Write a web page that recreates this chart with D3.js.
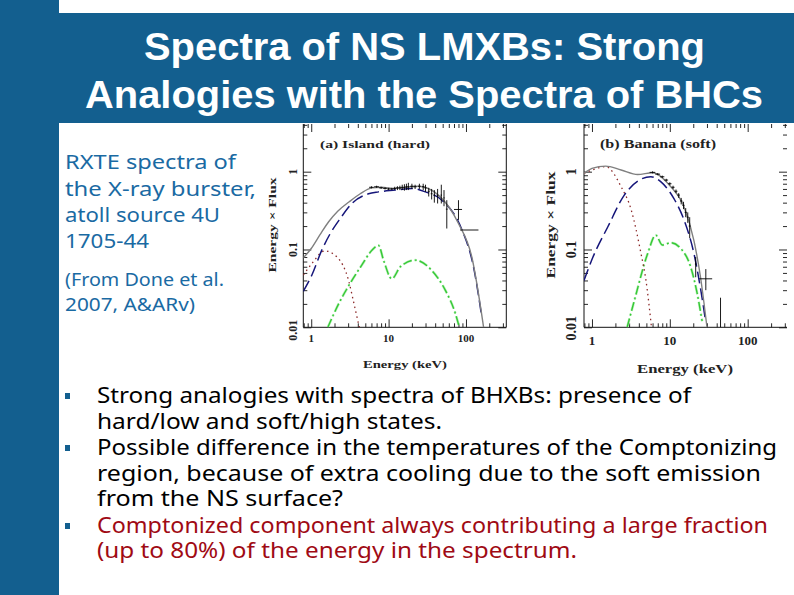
<!DOCTYPE html>
<html><head><meta charset="utf-8">
<script src="https://cdn.jsdelivr.net/npm/d3@7/dist/d3.min.js"></script>
<style>html,body{margin:0;padding:0;background:#fff;overflow:hidden}svg{display:block}</style>
</head><body><svg id="c" width="794" height="595"></svg>
<script>
// ---- data (energy keV, E x Flux) ----
const aTotal=[[0.79,0.078],[1,0.103],[1.3,0.155],[1.68,0.227],[2.2,0.31],[3.1,0.41],[4.3,0.52],[6.1,0.62],[8,0.63],[12.2,0.61],[24,0.65],[44,0.5],[80,0.216],[119,0.08],[169,0.01]];
const aComp=[[0.79,0.029],[1.02,0.047],[1.37,0.098],[1.76,0.16],[2.37,0.25],[3.35,0.39],[5.5,0.52],[7.4,0.55],[12.2,0.58],[20,0.61],[30,0.55],[48.7,0.43],[89,0.178],[125,0.06],[160,0.0136]];
const aDisc=[[0.79,0.047],[1.02,0.066],[1.5,0.096],[2.15,0.08],[3.04,0.04],[3.5,0.022],[4.1,0.011],[4.2,0.01]];
const aRefl=[[1.64,0.01],[2.26,0.02],[3.2,0.037],[4.5,0.063],[6.1,0.098],[7.4,0.113],[8.6,0.073],[11,0.042],[14.2,0.06],[22,0.073],[36,0.054],[54,0.03],[73,0.015],[82,0.01]];
// [E, xlo, xhi, F, ylo, yhi]
const aObs=[[6,5.6,6.4,.63,.61,.65],[7,6.5,7.5,.64,.62,.66],[8,7.5,8.5,.62,.6,.64],[9,8.5,9.5,.61,.59,.63],[10,9.5,10.5,.6,.58,.62],[11,10.5,11.5,.6,.58,.62],[12,11.5,12.5,.61,.58,.64],[13,12.5,13.5,.62,.58,.65],[14,13.5,14.5,.62,.58,.66],[15,14.5,15.5,.63,.58,.68],[16,15.5,16.5,.63,.57,.69],[17,16.5,17.5,.64,.58,.7],[18,17.5,18.5,.64,.58,.72],[20,19,21,.65,.6,.7],[22,21,23,.64,.6,.68],[25,24,26,.65,.6,.7],[28,27,29,.64,.58,.7],[30,29,31,.62,.55,.68],[33,32,34,.56,.48,.62],[36,35,37,.52,.44,.6],[39,38,40,.5,.4,.58],[43,42,44,.49,.39,.6],[48,47,49,.5,.39,.68],[52,51,53,.46,.36,.58],[56.5,55,58,.33,.186,.43],[80,70,89,.327,.24,.43],[84,84,145,.178,.178,.178]];
const bTotal=[[0.79,0.95],[1,1.1],[1.5,1.18],[2.37,1.05],[3.86,0.92],[6,0.97],[10.3,0.64],[15.2,0.355],[20.4,0.13],[24.8,0.044],[30,0.01]];
const bComp=[[0.79,0.04],[1.03,0.08],[1.6,0.196],[2.6,0.5],[4.26,0.8],[5.7,0.86],[7.7,0.74],[11.3,0.45],[15.2,0.24],[20.4,0.089],[25,0.03],[28.8,0.012]];
const bDisc=[[0.79,0.95],[1,1.05],[1.5,1.16],[2.37,0.64],[3.2,0.32],[4.26,0.089],[4.94,0.04],[5.8,0.0102]];
const bRefl=[[2.83,0.01],[3.5,0.022],[5.2,0.089],[6.6,0.153],[8,0.114],[10.3,0.122],[13.8,0.103],[18.5,0.06],[22.5,0.027],[26,0.012]];
const bObs=[[6,5.5,6.5,.98,.95,1.01],[7,6.5,7.5,.93,.9,.96],[8,7.5,8.5,.86,.83,.89],[9,8.5,9.5,.78,.75,.81],[10,9.5,10.5,.7,.67,.73],[11,10.5,11.5,.63,.6,.66],[12,11.5,12.5,.56,.53,.59],[13,12.5,13.5,.5,.46,.53],[14,13.5,14.5,.42,.38,.46],[15,14.5,15.5,.37,.33,.41],[16,15.5,16.5,.3,.26,.34],[17,16.5,17.5,.26,.22,.3],[18,17.5,18.5,.2,.14,.26],[21.5,21,22,.065,.044,.08],[29,23.8,35,.042,.03,.056],[44.8,44.8,44.8,.02,.01,.024]];
const xTickLabels=["1","10","100"];
const yTickLabels=["1","0.1","0.01"];
const titleLines=["Spectra of NS LMXBs: Strong","Analogies with the Spectra of BHCs"];
const noteLines=["RXTE spectra of","the X-ray burster,","atoll source 4U","1705-44"];
const refLines=["(From Done et al.","2007, A&ARv)"];
const bulletLines=["Strong analogies with spectra of BHXBs: presence of","hard/low and soft/high states.","Possible difference in the temperatures of the Comptonizing","region, because of extra cooling due to the soft emission","from the NS surface?","Comptonized component always contributing a large fraction","(up to 80%) of the energy in the spectrum."];

// ---- slide ----
const svg=d3.select("#c"), BLUE="#135f8f";
svg.append("rect").attr("width",794).attr("height",595).attr("fill","#fff");
svg.append("rect").attr("x",0).attr("y",0).attr("width",59).attr("height",595).attr("fill",BLUE);
svg.append("rect").attr("x",59).attr("y",13).attr("width",735).attr("height",110).attr("fill",BLUE);
const SANS="'Comic Sans MS','Noto Sans',Lato,sans-serif";
function put(s,x,y,w,size,fill,font,weight){
  return svg.append("text").attr("x",x).attr("y",y).attr("fill",fill).attr("font-family",font)
   .attr("font-size",size).attr("font-weight",weight||400)
   .attr("textLength",w).attr("lengthAdjust","spacingAndGlyphs").text(s);
}
[[144,60,561],[85,108,678]].forEach((p,i)=>put(titleLines[i],p[0],p[1],p[2],39,"#fff","'Liberation Sans',Arial,sans-serif",700));
[[169,171],[196,191],[222,155],[248,84]].forEach((p,i)=>put(noteLines[i],65,p[0],p[1],20,"#1a6aa3",SANS));
[[286,159],[311,130]].forEach((p,i)=>put(refLines[i],65,p[0],p[1],18,"#1a6aa3",SANS));
[[403,594],[429,345],[455,680],[481,664],[506,246],[533,671],[558,480]].forEach((p,i)=>
  put(bulletLines[i],97,p[0],p[1],21,i>=5?"#a00a14":"#000",SANS));
[396,448,526].forEach(y=>svg.append("rect").attr("x",65).attr("y",y-3).attr("width",5).attr("height",6).attr("fill",BLUE));

// ---- panels ----
function panel(o){
  const g=svg.append("g");
  const x=d3.scaleLog().domain(o.xd).range([o.l,o.r]);
  const y=d3.scaleLog().domain([0.01,o.ytop]).range([o.b,o.t]);
  const minorX=x.ticks().filter(v=>v>=x.domain()[0]&&v<=x.domain()[1]);
  const minorY=y.ticks();
  const isMajor=v=>Math.abs(Math.log10(v)-Math.round(Math.log10(v)))<1e-6;
  const ax=(gen,sc,vals,tx,ty,len)=>{
    const gg=g.append("g").attr("transform",`translate(${tx},${ty})`)
      .call(gen(sc).tickValues(vals).tickSize(len).tickFormat(""));
    gg.selectAll("path").remove();
    gg.selectAll("line").attr("stroke","#111").attr("stroke-width",0.9);
    return gg;
  };
  [[minorX.filter(isMajor),8],[minorX.filter(v=>!isMajor(v)),4]].forEach(([v,l])=>{
    ax(d3.axisBottom,x,v,0,o.t,l);
    ax(d3.axisTop,x,v,0,o.b,l);
  });
  [[minorY.filter(isMajor),8],[minorY.filter(v=>!isMajor(v)),4]].forEach(([v,l])=>{
    ax(d3.axisRight,y,v,o.l,0,l);
    ax(d3.axisLeft,y,v,o.r,0,l);
  });
  const frame=d3.path();
  frame.moveTo(o.l,o.t);frame.lineTo(o.l,o.b);frame.lineTo(o.r,o.b);
  if(o.rightLine){frame.lineTo(o.r,o.t);}
  g.append("path").attr("d",frame.toString()).attr("fill","none").attr("stroke","#111").attr("stroke-width",1);
  const SER="'Liberation Serif','DejaVu Serif',serif";
  const lab=(s,tx,ty,size,rot,w)=>{const t=g.append("text").attr("text-anchor","middle").attr("dominant-baseline","central")
     .attr("font-family",SER).attr("font-size",size).attr("font-weight",600).attr("fill","#222")
     .attr("transform",`translate(${tx},${ty})`+(rot?" rotate(-90)":"")).text(s);
     if(w)t.attr("textLength",w).attr("lengthAdjust","spacingAndGlyphs");};
  xTickLabels.forEach(s=>lab(s,x(+s),o.xTickY,o.xfs));
  yTickLabels.forEach(s=>lab(s,o.yTickX,y(+s)+(s==="0.01"?o.lowShift:0),o.yfs,true));
  lab(o.xLabel,o.xLabX,o.xLabY,o.lfs,false,o.xLabW);
  lab(o.yLabel,o.yLabX,o.yLabY,o.lfs,true,o.yLabW);
  lab(o.name,o.nameX,o.nameY,o.nfs,false,o.nameW);
  const line=d3.line().x(d=>x(d[0])).y(d=>y(d[1])).curve(d3.curveMonotoneX);
  const clip="clip"+o.id;
  svg.append("clipPath").attr("id",clip).append("rect").attr("x",o.l).attr("y",o.t).attr("width",o.r-o.l).attr("height",o.b-o.t);
  const c=g.append("g").attr("clip-path",`url(#${clip})`).attr("fill","none");
  c.append("path").attr("d",line(o.refl)).attr("stroke","#bdf0bd").attr("stroke-width",2.6).attr("stroke-dasharray","9 3 2 3");
  c.append("path").attr("d",line(o.refl)).attr("stroke","#35c835").attr("stroke-width",1.4).attr("stroke-dasharray","9 3 2 3");
  c.append("path").attr("d",line(o.disc)).attr("stroke","#8c2a2a").attr("stroke-width",1.3).attr("stroke-dasharray","1.5 3.5");
  c.append("path").attr("d",line(o.comp)).attr("stroke","#16167a").attr("stroke-width",1.5).attr("stroke-dasharray","12 5");
  c.append("path").attr("d",line(o.total)).attr("stroke","#808080").attr("stroke-width",1.4);
  const e=c.append("g").attr("stroke","#000").attr("stroke-width",0.9);
  e.selectAll("line.h").data(o.obs).join("line").attr("class","h")
    .attr("x1",d=>x(d[1])).attr("x2",d=>x(d[2])).attr("y1",d=>y(d[3])).attr("y2",d=>y(d[3]));
  e.selectAll("line.v").data(o.obs).join("line").attr("class","v")
    .attr("x1",d=>x(d[0])).attr("x2",d=>x(d[0])).attr("y1",d=>y(d[4])).attr("y2",d=>y(d[5]));
}
panel({id:"a",l:303.3,r:506.3,t:124,b:327.3,xd:[0.79,332],ytop:4.1,rightLine:true,
  xTickY:338,yTickX:293,xfs:11,yfs:12,lowShift:3,lfs:11,nfs:11,
  xLabel:"Energy (keV)",xLabX:405,xLabY:364,xLabW:84,
  yLabel:"Energy × Flux",yLabX:272,yLabY:225,yLabW:95,
  name:"(a) Island (hard)",nameX:375,nameY:144,nameW:110,
  total:aTotal,comp:aComp,disc:aDisc,refl:aRefl,obs:aObs});
panel({id:"b",l:584,r:787,t:124,b:327.3,xd:[0.79,320],ytop:4.1,rightLine:false,
  xTickY:340,yTickX:571,xfs:13,yfs:14,lowShift:1,lfs:13,nfs:12,
  xLabel:"Energy (keV)",xLabX:685,xLabY:368,xLabW:96,
  yLabel:"Energy × Flux",yLabX:550,yLabY:225,yLabW:107,
  name:"(b) Banana (soft)",nameX:658,nameY:144,nameW:116,
  total:bTotal,comp:bComp,disc:bDisc,refl:bRefl,obs:bObs});
</script></body></html>
